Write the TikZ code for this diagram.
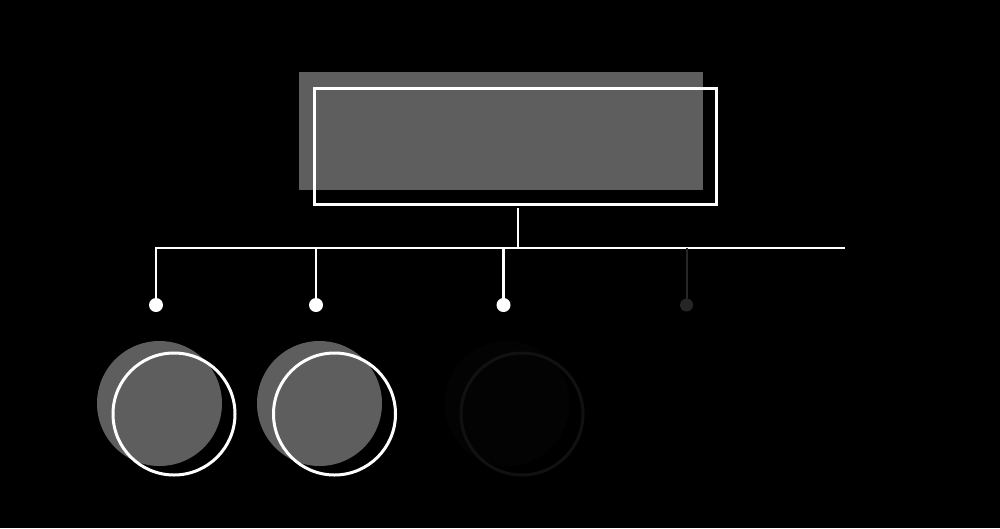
\documentclass[tikz,border=0pt]{standalone}
\begin{document}
\begin{tikzpicture}[x=1pt,y=-1pt,
  shadowbox/.style={fill=boxgray, draw=none, inner sep=0pt, minimum width=404pt, minimum height=118pt},
  framebox/.style={draw=white, line width=3pt, inner sep=0pt, minimum width=402pt, minimum height=116pt},
  shadowdisc/.style={circle, fill=boxgray, draw=none, inner sep=0pt, minimum size=125pt},
  framedisc/.style={circle, draw=white, line width=3pt, inner sep=0pt, minimum size=122pt},
  dot/.style={circle, fill=white, inner sep=0pt, minimum size=14pt},
  dimdot/.style={circle, fill=dimgray, inner sep=0pt, minimum size=13pt},
  link/.style={draw=white, line width=2.2pt},
  dimlink/.style={draw=dimgray, line width=2pt}]
\definecolor{boxgray}{HTML}{5E5E5E}
\definecolor{dimgray}{HTML}{262626}
\definecolor{faintgray}{HTML}{111111}
\definecolor{faintfill}{HTML}{030303}
\fill[black] (0,0) rectangle (1000,528);
\useasboundingbox (0,0) rectangle (1000,528);
% top box
\node[shadowbox] (topshadow) at (501,131) {};
\node[framebox] (top) at (515,146) {};
% stem and bus
\coordinate (stemtop) at (518,208);
\coordinate (busL) at (155,248);
\coordinate (busR) at (845,248);
\coordinate (bus1) at (156,248);
\coordinate (bus2) at (316,248);
\coordinate (bus3) at (503.5,248);
\coordinate (bus4) at (686.5,248);
\coordinate (stembot) at (518,248);
\draw[link] (stemtop) -- (stembot);
\draw[link] (busL) -- (busR);
% drops and dots
\node[dot] (d1) at (156,305) {};
\node[dot] (d2) at (316,305) {};
\node[dot] (d3) at (503.5,305) {};
\node[dimdot] (d4) at (686.5,305) {};
\draw[link] (bus1) -- (d1.center);
\draw[link] (bus2) -- (d2.center);
\draw[link] (bus3) -- (d3.center);
\draw[dimlink] (bus4) -- (d4.center);
% discs
\node[shadowdisc] (s1) at (159.5,403.5) {};
\node[framedisc] (c1) at (174,414) {};
\node[shadowdisc] (s2) at (319.5,403.5) {};
\node[framedisc] (c2) at (334.5,414) {};
\node[circle, fill=faintfill, inner sep=0pt, minimum size=125pt] (s3) at (507,403.5) {};
\node[circle, draw=faintgray, line width=3pt, inner sep=0pt, minimum size=122pt] (c3) at (522,414) {};
\end{tikzpicture}
\end{document}
